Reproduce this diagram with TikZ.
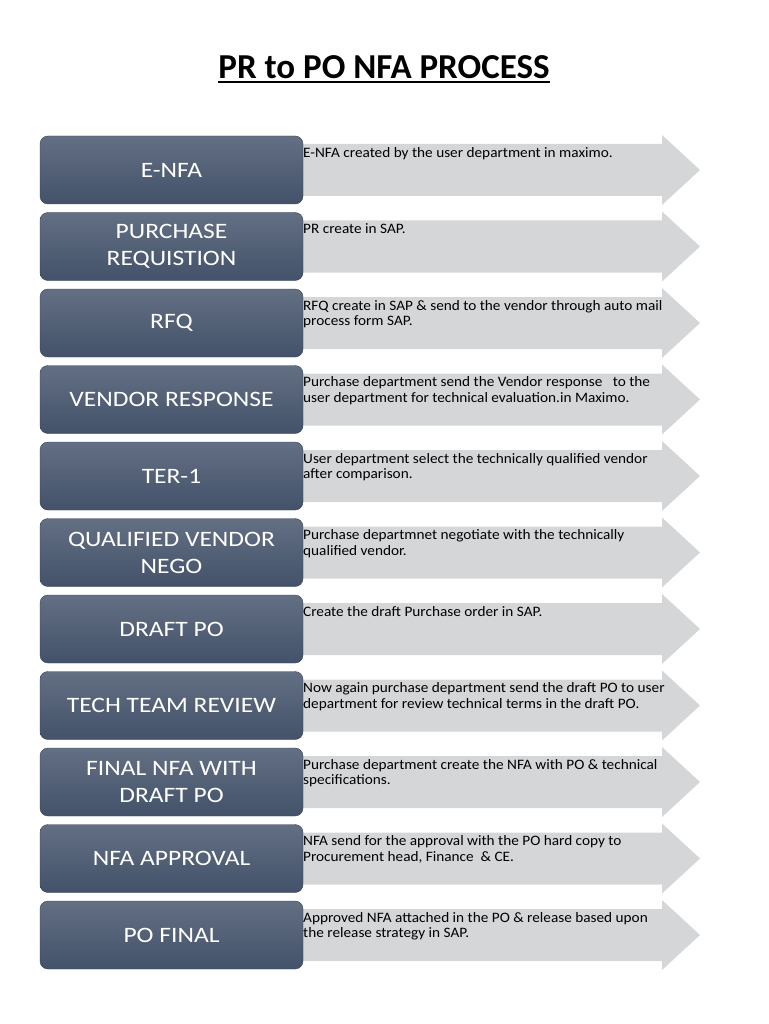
\documentclass[tikz,border=0pt]{standalone}
\usepackage{fontspec}
\setmainfont{Carlito}
\usetikzlibrary{positioning}

\definecolor{boxtop}{HTML}{636F83}
\definecolor{boxbot}{HTML}{43526A}
\definecolor{arrowgray}{HTML}{D5D6D8}

\tikzset{
  stepbox/.style={rounded corners=8pt, minimum width=263pt, minimum height=68pt,
    top color=boxtop, bottom color=boxbot, draw=boxbot!80!black, line width=0.4pt,
    text=white, align=center, inner sep=0pt,
    font=\fontsize{22}{27}\selectfont\addfontfeature{FakeStretch=1.16}},
  stepnote/.style={anchor=north west, align=left, inner sep=1pt,
    font=\fontsize{14.4}{15.5}\selectfont\addfontfeature{FakeStretch=1.06}},
}

\begin{document}
\begin{tikzpicture}[x=1pt,y=-1pt]
    \useasboundingbox (0,0) rectangle (768,1024);

		\node [inner sep=0pt] (title) at (384,67) {\fontsize{35}{40}\selectfont\bfseries PR to PO NFA PROCESS};
		\draw [line width=2.3pt] ([yshift=-4pt]title.base west) -- ([yshift=-4pt]title.base east); %underline

		\foreach \i/\lab/\txt in {
		  0/{E-NFA}/{E-NFA created by the user department in maximo.},
		  1/{PURCHASE\\REQUISTION}/{PR create in SAP.},
		  2/{RFQ}/{RFQ create in SAP \& send to the vendor through auto mail\\process form SAP.},
		  3/{VENDOR RESPONSE}/{Purchase department send the Vendor response\ \ \ to the\\user department for technical evaluation.in Maximo.},
		  4/{TER-1}/{User department select the technically qualified vendor\\after comparison.},
		  5/{QUALIFIED VENDOR\\NEGO}/{Purchase departmnet negotiate with the technically\\qualified vendor.},
		  6/{DRAFT PO}/{Create the draft Purchase order in SAP.},
		  7/{TECH TEAM REVIEW}/{Now again purchase department send the draft PO to user\\department for review technical terms in the draft PO.},
		  8/{FINAL NFA WITH\\DRAFT PO}/{Purchase department create the NFA with PO \& technical\\specifications.},
		  9/{NFA APPROVAL}/{NFA send for the approval with the PO hard copy to\\Procurement head, Finance\ \ \& CE.},
		  10/{PO FINAL}/{Approved NFA attached in the PO \& release based upon\\the release strategy in SAP.}}
		{
		  \pgfmathsetmacro{\t}{136+76.5*\i}
		  % arrow behind
		  \fill [arrowgray] (296,\t+8) -- (662,\t+8) -- (662,\t-1) -- (700,\t+34)
		     -- (662,\t+69) -- (662,\t+60) -- (296,\t+60) -- cycle;
		  \node [stepbox] (s\i) at (171.5,\t+34) {\lab};
		  \node [stepnote] (d\i) at (302,\t+10) {\txt};
		}
\end{tikzpicture}
\end{document}
